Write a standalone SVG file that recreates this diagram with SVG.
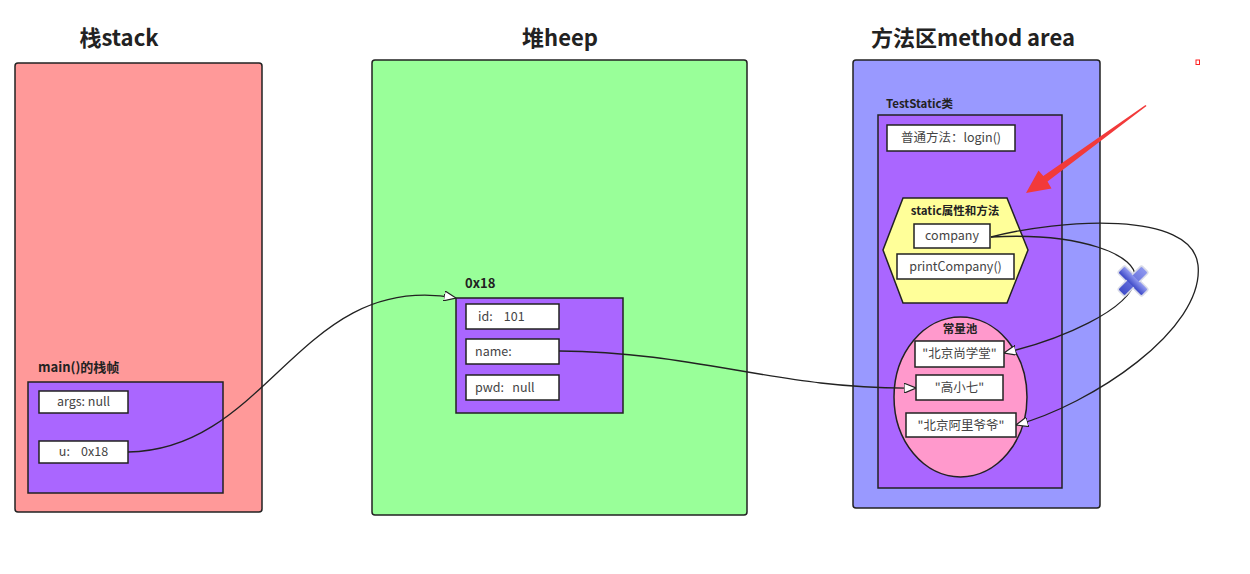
<svg xmlns="http://www.w3.org/2000/svg" width="1250" height="574" viewBox="0 0 1250 574">
<style>
.title{font-family:"Noto Sans CJK SC","Liberation Sans",sans-serif;font-weight:bold;font-size:22px;fill:#222;text-anchor:middle}
.lbl{font-family:"Noto Sans CJK SC","Liberation Sans",sans-serif;font-weight:bold;font-size:13px;fill:#222}
.slbl{font-family:"Noto Sans CJK SC","Liberation Sans",sans-serif;font-weight:bold;font-size:11.5px;fill:#222}
.txt{font-family:"Noto Sans CJK SC","Liberation Sans",sans-serif;font-size:12.5px;fill:#444;text-anchor:middle}
.area{stroke:#222;stroke-width:1.5}
.frame{fill:#aa66ff;stroke:#222;stroke-width:1.5}
.cell{fill:#fff;stroke:#222;stroke-width:1.5}
.conn{fill:none;stroke:#222;stroke-width:1.3}
</style>
<defs>
<marker id="tri" viewBox="0 0 12 10" refX="12" refY="5" markerWidth="12" markerHeight="10" markerUnits="userSpaceOnUse" orient="auto">
<path d="M0,0 L12,5 L0,10 Z" fill="#fff" stroke="#222" stroke-width="1.2"/>
</marker>
<linearGradient id="xg" x1="0" y1="0" x2="0" y2="1">
<stop offset="0" stop-color="#8f98f0"/>
<stop offset="1" stop-color="#3f4bc8"/>
</linearGradient>
</defs>
<rect width="1250" height="574" fill="#fff"/>

<g id="stack">
<text class="title" x="119" y="46">栈stack</text>
<rect class="area" x="15" y="63" width="247" height="449" rx="3" fill="#ff9999"/>
<text class="lbl" x="38" y="372">main()的栈帧</text>
<rect class="frame" x="28" y="382" width="195" height="111"/>
</g>
<g id="args"><rect class="cell" x="39" y="391" width="89" height="22"/><text class="txt" x="83.5" y="406">args: null</text></g>
<g id="u"><rect class="cell" x="39" y="441" width="89" height="22"/><text class="txt" x="83.5" y="456" xml:space="preserve">u:    0x18</text></g>

<g id="heap">
<text class="title" x="560" y="46">堆heep</text>
<rect class="area" x="372" y="60" width="375" height="455" rx="3" fill="#99ff99"/>
<text class="lbl" x="465" y="288">0x18</text>
<rect class="frame" x="456" y="298" width="167" height="115"/>
</g>
<g id="id"><rect class="cell" x="466" y="304" width="93" height="25"/><text class="txt" x="478" y="321" style="text-anchor:start" xml:space="preserve">id:    101</text></g>
<g id="name"><rect class="cell" x="466" y="339" width="93" height="25"/><text class="txt" x="475" y="356" style="text-anchor:start">name:</text></g>
<g id="pwd"><rect class="cell" x="466" y="375" width="93" height="25"/><text class="txt" x="475" y="392" style="text-anchor:start" xml:space="preserve">pwd:   null</text></g>

<g id="method-area">
<text class="title" x="973" y="46">方法区method area</text>
<rect class="area" x="853" y="60" width="247" height="448" rx="3" fill="#9999ff"/>
<text class="slbl" x="886" y="108">TestStatic类</text>
<rect class="frame" x="878" y="115" width="184" height="373"/>
</g>
<g id="login"><rect class="cell" x="887" y="125" width="128" height="26"/><text class="txt" x="951" y="142">普通方法：login()</text></g>
<g id="static">
<polygon points="903,198 1007,198 1028,250 1007,303 903,303 883,250" fill="#ffff99" stroke="#222" stroke-width="1.5"/>
<text class="slbl" x="955" y="215" text-anchor="middle">static属性和方法</text>
</g>
<g id="company"><rect class="cell" x="914" y="224" width="76" height="24"/><text class="txt" x="952" y="240">company</text></g>
<g id="printCompany"><rect class="cell" x="897" y="254" width="117" height="25"/><text class="txt" x="955.5" y="271">printCompany()</text></g>
<g id="pool">
<ellipse cx="960.5" cy="397" rx="66.5" ry="80" fill="#ff99cc" stroke="#222" stroke-width="1.5"/>
<text class="slbl" x="960" y="333" text-anchor="middle">常量池</text>
</g>
<g id="s1"><rect class="cell" x="915" y="341" width="89" height="26"/><text class="txt" x="959.5" y="358">"北京尚学堂"</text></g>
<g id="s2"><rect class="cell" x="916" y="375" width="87" height="25"/><text class="txt" x="959.5" y="392">"高小七"</text></g>
<g id="s3"><rect class="cell" x="906" y="413" width="110" height="24"/><text class="txt" x="961" y="430">"北京阿里爷爷"</text></g>

<g id="connectors">
<path class="conn" d="M128,452 C270,450 300,270 456,298" marker-end="url(#tri)"/>
<path class="conn" d="M559,351 C700,352 780,390 916,388" marker-end="url(#tri)"/>
<path class="conn" d="M991,237 C1080,232 1140,255 1135,280 C1130,310 1060,340 1004,353" marker-end="url(#tri)"/>
<path class="conn" d="M991,237 C1060,219 1192,210 1198,265 C1205,330 1090,405 1016,425" marker-end="url(#tri)"/>
</g>

<g id="cross" transform="translate(1133,281) rotate(45)">
<rect x="-17" y="-5" width="34" height="10" rx="2" fill="url(#xg)" stroke="#d8dae8" stroke-width="1.5"/>
<rect x="-5" y="-17" width="10" height="34" rx="2" fill="url(#xg)" stroke="#d8dae8" stroke-width="1.5"/>
<rect x="-15.5" y="-3.8" width="31" height="7.6" fill="url(#xg)"/>
</g>

<g id="red-arrow">
<polygon points="1146.5,106 1047.5,181.6 1051.5,188.5 1026,193 1038.5,170.5 1043.3,176 1145.5,105" fill="#f23a3a"/>
</g>
<rect x="1196" y="60" width="3.5" height="4.5" fill="none" stroke="#f22" stroke-width="1"/>
</svg>
